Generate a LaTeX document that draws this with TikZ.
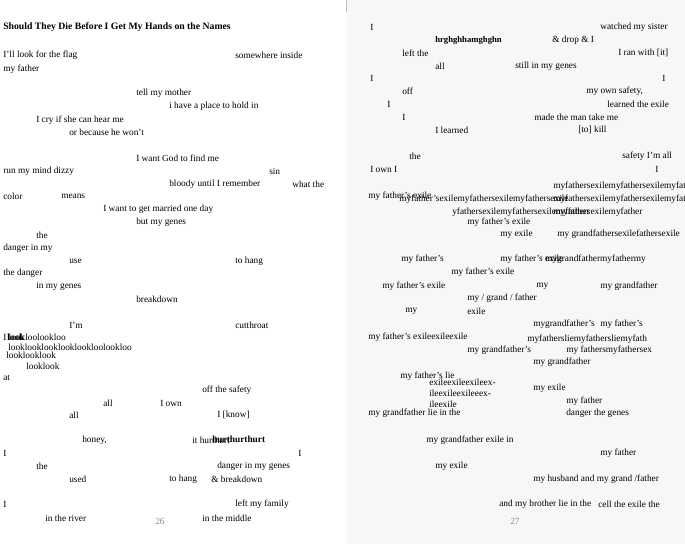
\documentclass[tikz,border=0pt]{standalone}
\usepackage{fontspec}
\setmainfont{Liberation Serif}
\tikzset{
  ln/.style={anchor=west, inner sep=0pt, font=\fontsize{7}{8}\selectfont},
  bd/.style={ln, font=\fontsize{7}{8}\selectfont\bfseries},
  pg/.style={ln, text=black!45}
}
\begin{document}
\begin{tikzpicture}[x=0.75pt, y=-0.75pt]
\useasboundingbox (0,0) rectangle (685,544);
\fill[black!3] (346,0) rectangle (685,544);
\draw[black!25] (346,0) -- (346,12);
% left page
\node[bd, font=\fontsize{7.3}{9}\selectfont\bfseries] (title) at (3,27) {Should They Die Before I Get My Hands on the Names};
\node[ln] (l1) at (3,55) {I'll look for the flag};
\node[ln] (l2) at (235,55) {somewhere inside};
\node[ln] (l3) at (3,69) {my father};
\node[ln] (l4) at (136,93) {tell my mother};
\node[ln] (l5) at (169,106) {i have a place to hold in};
\node[ln] (l6) at (36,120) {I cry if she can hear me};
\node[ln] (l7) at (69,132) {or because he won't};
\node[ln] (l8) at (136,158) {I want God to find me};
\node[ln] (l9) at (3,171) {run my mind dizzy};
\node[ln] (l10) at (269,171) {sin};
\node[ln] (l11) at (169,184) {bloody until I remember};
\node[ln] (l12) at (292,184) {what the};
\node[ln] (l13) at (3,196) {color};
\node[ln] (l14) at (61,196) {means};
\node[ln] (l15) at (103,209) {I want to get married one day};
\node[ln] (l16) at (136,222) {but my genes};
\node[ln] (l17) at (36,235) {the};
\node[ln] (l18) at (3,248) {danger in my};
\node[ln] (l19) at (69,261) {use};
\node[ln] (l20) at (235,261) {to hang};
\node[ln] (l21) at (3,273) {the danger};
\node[ln] (l22) at (36,286) {in my genes};
\node[ln] (l23) at (136,299) {breakdown};
\node[ln] (l24) at (69,325) {I'm};
\node[ln] (l25) at (235,325) {cutthroat};
\node[ln] (l26) at (3,337) {I lookloolookloo};
\node[bd] (l26b) at (7,337) {look};
\node[ln] (l27) at (8,347) {looklooklooklooklookloolookloo};
\node[ln] (l28) at (6,355) {looklooklook};
\node[ln] (l29) at (26,366) {looklook};
\node[ln] (l30) at (3,378) {at};
\node[ln] (l31) at (202,390) {off the safety};
\node[ln] (l32) at (103,403) {all};
\node[ln] (l33) at (160,403) {I own};
\node[ln] (l34) at (69,415) {all};
\node[ln] (l35) at (217,415) {I [know]};
\node[ln] (l36) at (82,440) {honey,};
\node[ln] (l37) at (192,440) {it hurthurt};
\node[bd] (l37b) at (212,439) {hurthurthurt};
\node[ln] (l38) at (3,453) {I};
\node[ln] (l39) at (298,453) {I};
\node[ln] (l40) at (36,466) {the};
\node[ln] (l41) at (217,466) {danger in my genes};
\node[ln] (l42) at (69,479) {used};
\node[ln] (l43) at (169,479) {to hang};
\node[ln] (l44) at (211,479) {\& breakdown};
\node[ln] (l45) at (3,504) {I};
\node[ln] (l46) at (235,504) {left my family};
\node[ln] (l47) at (45,518) {in the river};
\node[pg] (p26) at (155,521) {26};
\node[ln] (l48) at (202,518) {in the middle};
% right page
\node[ln] (r1) at (370,27) {I};
\node[ln] (r2) at (600,27) {watched my sister};
\node[bd, font=\fontsize{6.5}{7}\selectfont\bfseries] (r3) at (435,40) {hrghghhamghghn};
\node[ln] (r4) at (552,40) {\& drop \& I};
\node[ln] (r5) at (402,53) {left the};
\node[ln] (r6) at (618,53) {I ran with [it]};
\node[ln] (r7) at (435,66) {all};
\node[ln] (r8) at (515,66) {still in my genes};
\node[ln] (r9) at (370,78) {I};
\node[ln] (r10) at (662,78) {I};
\node[ln] (r11) at (402,91) {off};
\node[ln] (r12) at (586,91) {my own safety,};
\node[ln] (r13) at (387,104) {I};
\node[ln] (r14) at (607,104) {learned the exile};
\node[ln] (r15) at (402,117) {I};
\node[ln] (r16) at (534,117) {made the man take me};
\node[ln] (r17) at (435,130) {I learned};
\node[ln] (r18) at (578,130) {[to] kill};
\node[ln] (r19) at (409,156) {the};
\node[ln] (r20) at (622,156) {safety I'm all};
\node[ln] (r21) at (370,169) {I own I};
\node[ln] (r22) at (655,169) {I};
\node[ln] (r23) at (553,186) {myfathersexilemyfathersexilemyfat};
\node[ln] (r24) at (368,196) {my father's exile};
\node[ln] (r25) at (399,199) {myfather'sexilemyfathersexilemyfathersexile};
\node[ln] (r26) at (553,199) {myfathersexilemyfathersexilemyfathersex};
\node[ln] (r27) at (452,212) {yfathersexilemyfathersexilemyfather};
\node[ln] (r28) at (553,212) {myfathersexilemyfather};
\node[ln] (r29) at (467,222) {my father's exile};
\node[ln] (r30) at (500,234) {my exile};
\node[ln] (r31) at (557,234) {my grandfathersexilefathersexile};
\node[ln] (r32) at (401,259) {my father's};
\node[ln] (r33) at (500,259) {my father's exile};
\node[ln] (r34) at (545,259) {mygrandfathermyfathermy};
\node[ln] (r35) at (451,272) {my father's exile};
\node[ln] (r36) at (382,286) {my father's exile};
\node[ln] (r37) at (536,286) {my};
\node[ln] (r38) at (600,286) {my grandfather};
\node[ln] (r39) at (467,298) {my / grand / father};
\node[ln] (r40) at (405,311) {my};
\node[ln] (r41) at (467,311) {exile};
\node[ln] (r42) at (533,324) {mygrandfather's};
\node[ln] (r43) at (600,324) {my father's};
\node[ln] (r44) at (368,337) {my father's exileexileexile};
\node[ln] (r45) at (527,339) {myfathersliemyfathersliemyfath};
\node[ln] (r46) at (467,350) {my grandfather's};
\node[ln] (r47) at (566,350) {my fathersmyfathersex};
\node[ln] (r48) at (533,362) {my grandfather};
\node[ln] (r49) at (400,376) {my father's lie};
\node[ln] (r50) at (429,382) {exileexileexileex-};
\node[ln] (r51) at (429,393) {ileexileexileeex-};
\node[ln] (r52) at (429,404) {ileexile};
\node[ln] (r53) at (533,388) {my exile};
\node[ln] (r54) at (566,401) {my father};
\node[ln] (r55) at (368,413) {my grandfather lie in the};
\node[ln] (r56) at (566,413) {danger the genes};
\node[ln] (r57) at (426,440) {my grandfather exile in};
\node[ln] (r58) at (600,453) {my father};
\node[ln] (r59) at (435,466) {my exile};
\node[ln] (r60) at (533,479) {my husband and my grand /father};
\node[ln] (r61) at (499,504) {and my brother lie in the};
\node[ln] (r62) at (598,504) {cell the exile the};
\node[pg] (p27) at (510,521) {27};
\end{tikzpicture}
\end{document}
